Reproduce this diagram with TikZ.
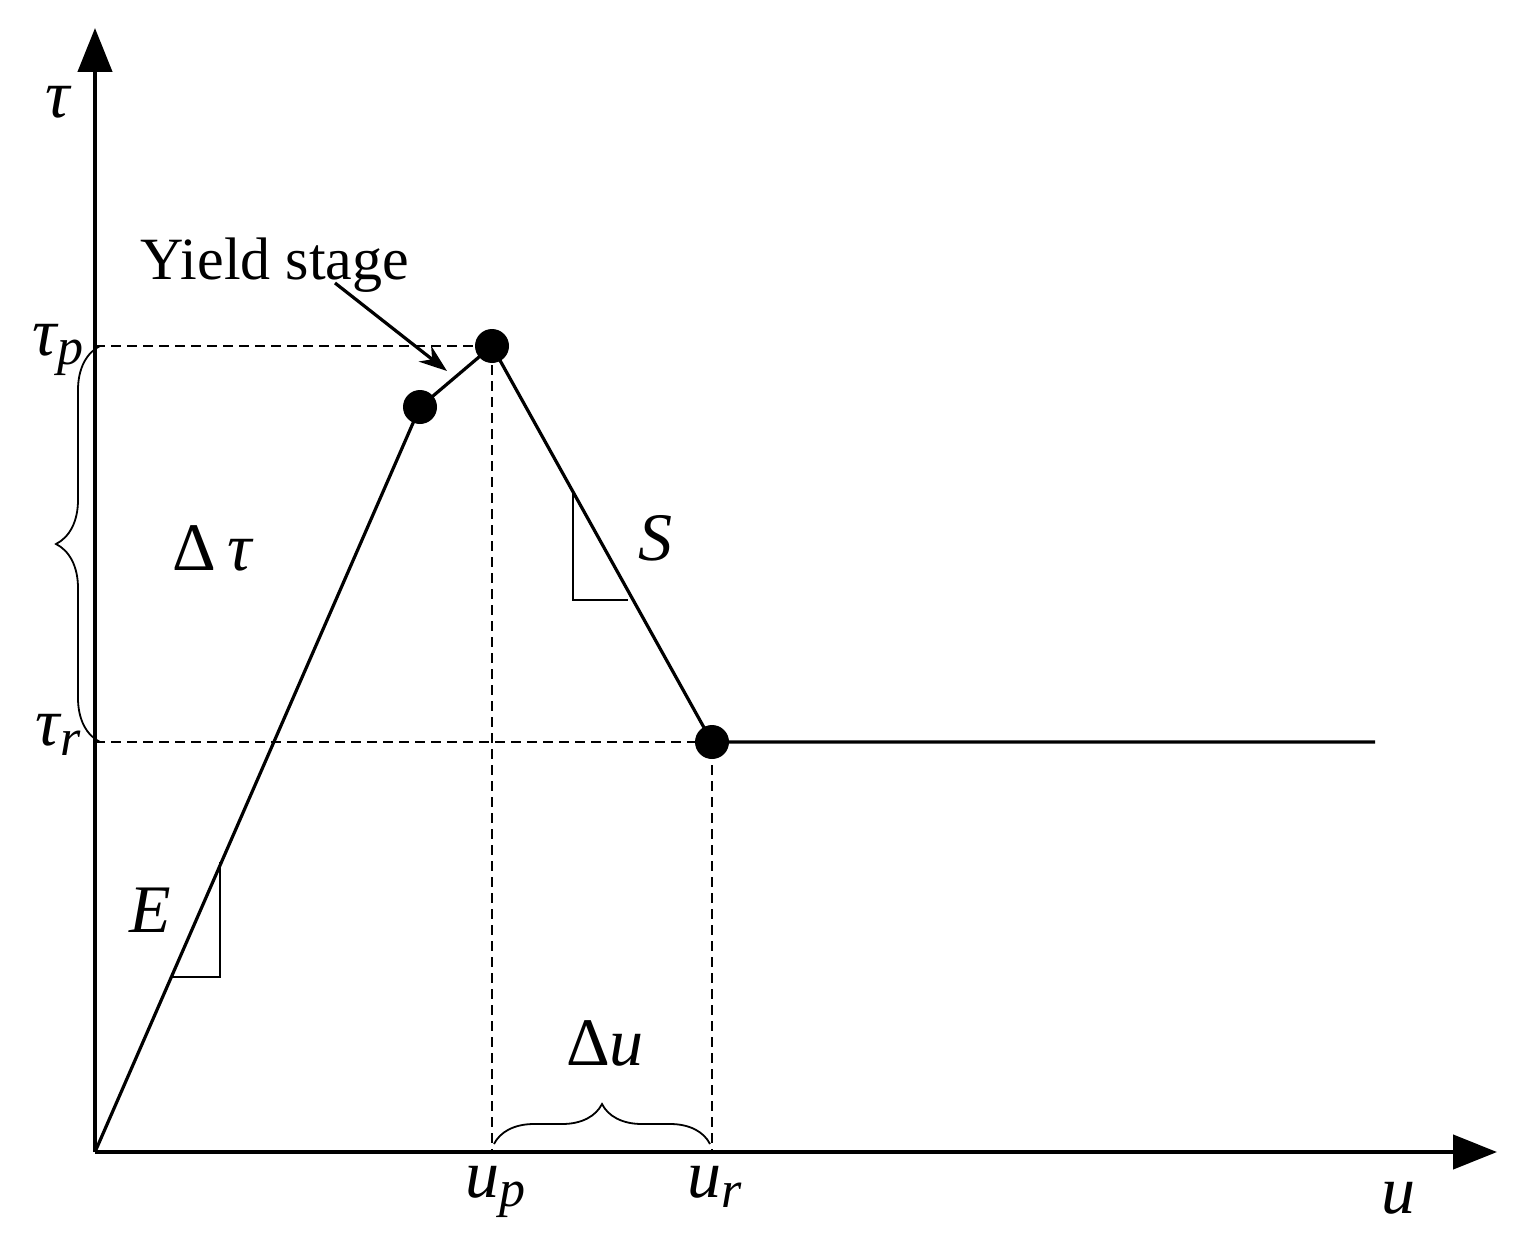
\documentclass[tikz,border=0pt]{standalone}
\usepackage{fontspec}
\setmainfont{Liberation Serif}
\usetikzlibrary{arrows.meta,decorations.pathreplacing}
\begin{document}
\begin{tikzpicture}[x=0.5pt,y=-0.5pt,
  curve/.style={line width=1.6pt},
  axis/.style={line width=2.2pt,-{Triangle[length=22pt,width=17pt]}},
  dashln/.style={line width=0.8pt,dash pattern=on 5pt off 3pt},
  thinln/.style={line width=0.9pt},
  dot/.style={circle,fill=black,inner sep=0pt,minimum size=17pt},
  lbl/.style={font=\fontsize{34}{40}\selectfont\itshape,inner sep=0pt}]
\useasboundingbox (0,0) rectangle (1529,1257);
\coordinate (O) at (95,1152);
\coordinate (Ytop) at (95,28);
\coordinate (Xend) at (1497,1152);
\coordinate (A) at (420,407);
\coordinate (P) at (492,346);
\coordinate (R) at (712,742);
\coordinate (Rend) at (1375,742);
\coordinate (Tp) at (95,346);
\coordinate (Tr) at (95,742);
\coordinate (Up) at (492,1152);
\coordinate (Ur) at (712,1152);
\draw[dashln] (Tp) -- (P) -- (Up);
\draw[dashln] (Tr) -- (R) -- (Ur);
\draw[axis] (O) -- (Ytop);
\draw[axis] (O) -- (Xend);
\draw[curve] (O) -- (A) -- (P) -- (R) -- (Rend);
\node[dot] (nA) at (A) {};
\node[dot] (nP) at (P) {};
\node[dot] (nR) at (R) {};
% slope triangles
\draw[thinln] (220,862) -- (220,977) -- (170,977);
\draw[thinln] (573,493) -- (573,600) -- (628,600);
% braces
\draw[thinln,decorate,decoration={brace,amplitude=22pt,mirror,raise=4pt}] (108,346) -- (108,742);
\draw[thinln,decorate,decoration={brace,amplitude=20pt,raise=2pt}] (494,1148) -- (710,1148);
% labels
\node[lbl] (ltau) at (58,102) {τ};
\node[lbl] (ltp) at (58,350) {τ\raisebox{-0.3ex}{\fontsize{26}{30}\selectfont p}};
\node[lbl] (ltr) at (58,735) {τ\raisebox{-0.3ex}{\fontsize{26}{30}\selectfont r}};
\node[lbl] (lup) at (495,1192) {u\raisebox{-0.3ex}{\fontsize{26}{30}\selectfont p}};
\node[lbl] (lur) at (715,1187) {u\raisebox{-0.3ex}{\fontsize{26}{30}\selectfont r}};
\node[lbl] (lu) at (1398,1198) {u};
\node[lbl] (ldt) at (212,548) {{\upshape Δ}\,τ};
\node[lbl] (ldu) at (605,1043) {{\upshape Δ}u};
\node[lbl] (lE) at (150,910) {E};
\node[lbl] (lS) at (655,538) {S};
\node[font=\fontsize{30}{36}\selectfont,inner sep=0pt] (ys) at (275,265) {Yield stage};
\coordinate (arrs) at (335,283);
\coordinate (arre) at (447,371);
\draw[line width=1.6pt,-{Stealth[length=14pt,width=10pt]}] (arrs) -- (arre);
\end{tikzpicture}
\end{document}
